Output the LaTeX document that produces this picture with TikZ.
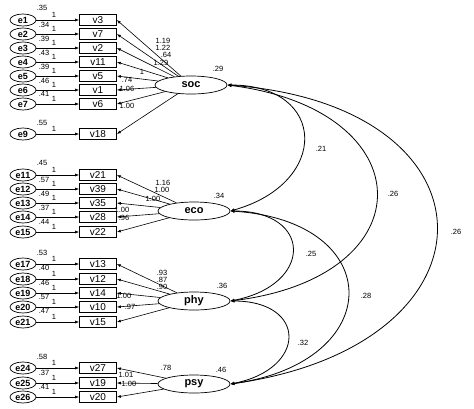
\documentclass[tikz,border=0pt]{standalone}
\usepackage{fontspec}
\setmainfont{Liberation Sans}
\usetikzlibrary{shapes.geometric,arrows.meta}
\tikzset{
 err/.style={ellipse, draw, line width=0.7pt, minimum width=26pt, minimum height=12pt, inner sep=0pt, font=\bfseries\fontsize{9}{9}\selectfont},
 obs/.style={rectangle, draw, line width=0.7pt, minimum width=37pt, minimum height=11pt, inner sep=0pt, font=\fontsize{10}{10}\selectfont},
 lat/.style={ellipse, draw, line width=0.7pt, minimum width=72pt, minimum height=18pt, inner sep=0pt, font=\bfseries\fontsize{11}{11}\selectfont},
 lbl/.style={font=\fontsize{7.5}{8}\selectfont, inner sep=0pt},
 pth/.style={-{Latex[length=4pt,width=3pt]}, line width=0.6pt},
 cov/.style={{Latex[length=4pt,width=3.5pt]}-{Latex[length=4pt,width=3.5pt]}, line width=0.8pt},
}
\begin{document}
\begin{tikzpicture}[x=1pt,y=-1pt]
\useasboundingbox (0,0) rectangle (474,408);
% latent variables
\node[lat] (soc) at (191,85) {soc};
\node[lat] (eco) at (194,211) {eco};
\node[lat] (phy) at (194,301) {phy};
\node[lat] (psy) at (194,384) {psy};
% indicators and errors
\foreach \e/\v/\y/\f in {e1/v3/20/soc, e2/v7/34/soc, e3/v2/48/soc, e4/v11/62/soc, e5/v5/76/soc, e6/v1/90/soc, e7/v6/104/soc, e9/v18/134/soc,
  e11/v21/175/eco, e12/v39/189/eco, e13/v35/203/eco, e14/v28/217/eco, e15/v22/232/eco,
  e17/v13/264/phy, e18/v12/279/phy, e19/v14/293/phy, e20/v10/307/phy, e21/v15/322/phy,
  e24/v27/368/psy, e25/v19/383/psy, e26/v20/397/psy}{
  \node[err] (\e) at (23,\y) {\e};
  \node[obs] (\v) at (98,\y) {\v};
  \draw[pth] (\e) -- (\v);
  \draw[pth] (\f) -- (\v.east);
  \node[lbl] (w\e) at (54,\y-5) {1};
}
% squared multiple correlations
\foreach \t/\x/\y [count=\i] in {.35/42/8, .34/44/25, .39/44/39, .43/44/53, .39/44/67, .46/44/81, .41/44/94, .55/42/123,
  .45/42/163, .57/44/180, .49/44/194, .37/44/208, .44/44/222,
  .53/42/253, .40/44/268, .46/44/283, .57/44/297, .47/44/311,
  .58/42/357, .37/44/373, .41/44/387}{
  \node[lbl] (r\i) at (\x,\y) {\t};
}
% loadings
\foreach \t/\x/\y [count=\i] in {1.19/163/41, 1.22/163/48, .64/166/55, 1.29/161/63, 1/142/72, .74/127/80, 1.06/127/89, 1.00/127/106,
  1.16/163/183, 1.00/162/190, 1.00/153/199, 1.00/122/210, .96/124/218,
  .93/162/273, .87/162/280, .90/162/287, 1.00/124/296, .97/130/307,
  .78/166/368, 1.01/126/375, 1.00/129/384}{
  \node[lbl] (l\i) at (\x,\y) {\t};
}
% variances of latent variables
\node[lbl] (vs) at (218,69) {.29};
\node[lbl] (ve) at (219,196) {.34};
\node[lbl] (vp) at (222,286) {.36};
\node[lbl] (vy) at (221,370) {.46};
% covariances
\draw[cov] (soc.east) .. controls +(100,0) and +(100,-28) .. (eco.east);
\draw[cov] (soc.east) .. controls +(197,25) and +(197,-24) .. (phy.east);
\draw[cov] (soc.east) .. controls +(277,20) and +(277,-39) .. (psy.east);
\draw[cov] (eco.east) .. controls +(83,0) and +(83,-16) .. (phy.east);
\draw[cov] (eco.east) .. controls +(157,10) and +(157,-22) .. (psy.east);
\draw[cov] (phy.east) .. controls +(77,0) and +(77,-15) .. (psy.east);
\node[lbl] (c1) at (321,149) {.21};
\node[lbl] (c2) at (393,194) {.26};
\node[lbl] (c3) at (456,232) {.26};
\node[lbl] (c4) at (311,254) {.25};
\node[lbl] (c5) at (366,296) {.28};
\node[lbl] (c6) at (303,343) {.32};
\end{tikzpicture}
\end{document}
